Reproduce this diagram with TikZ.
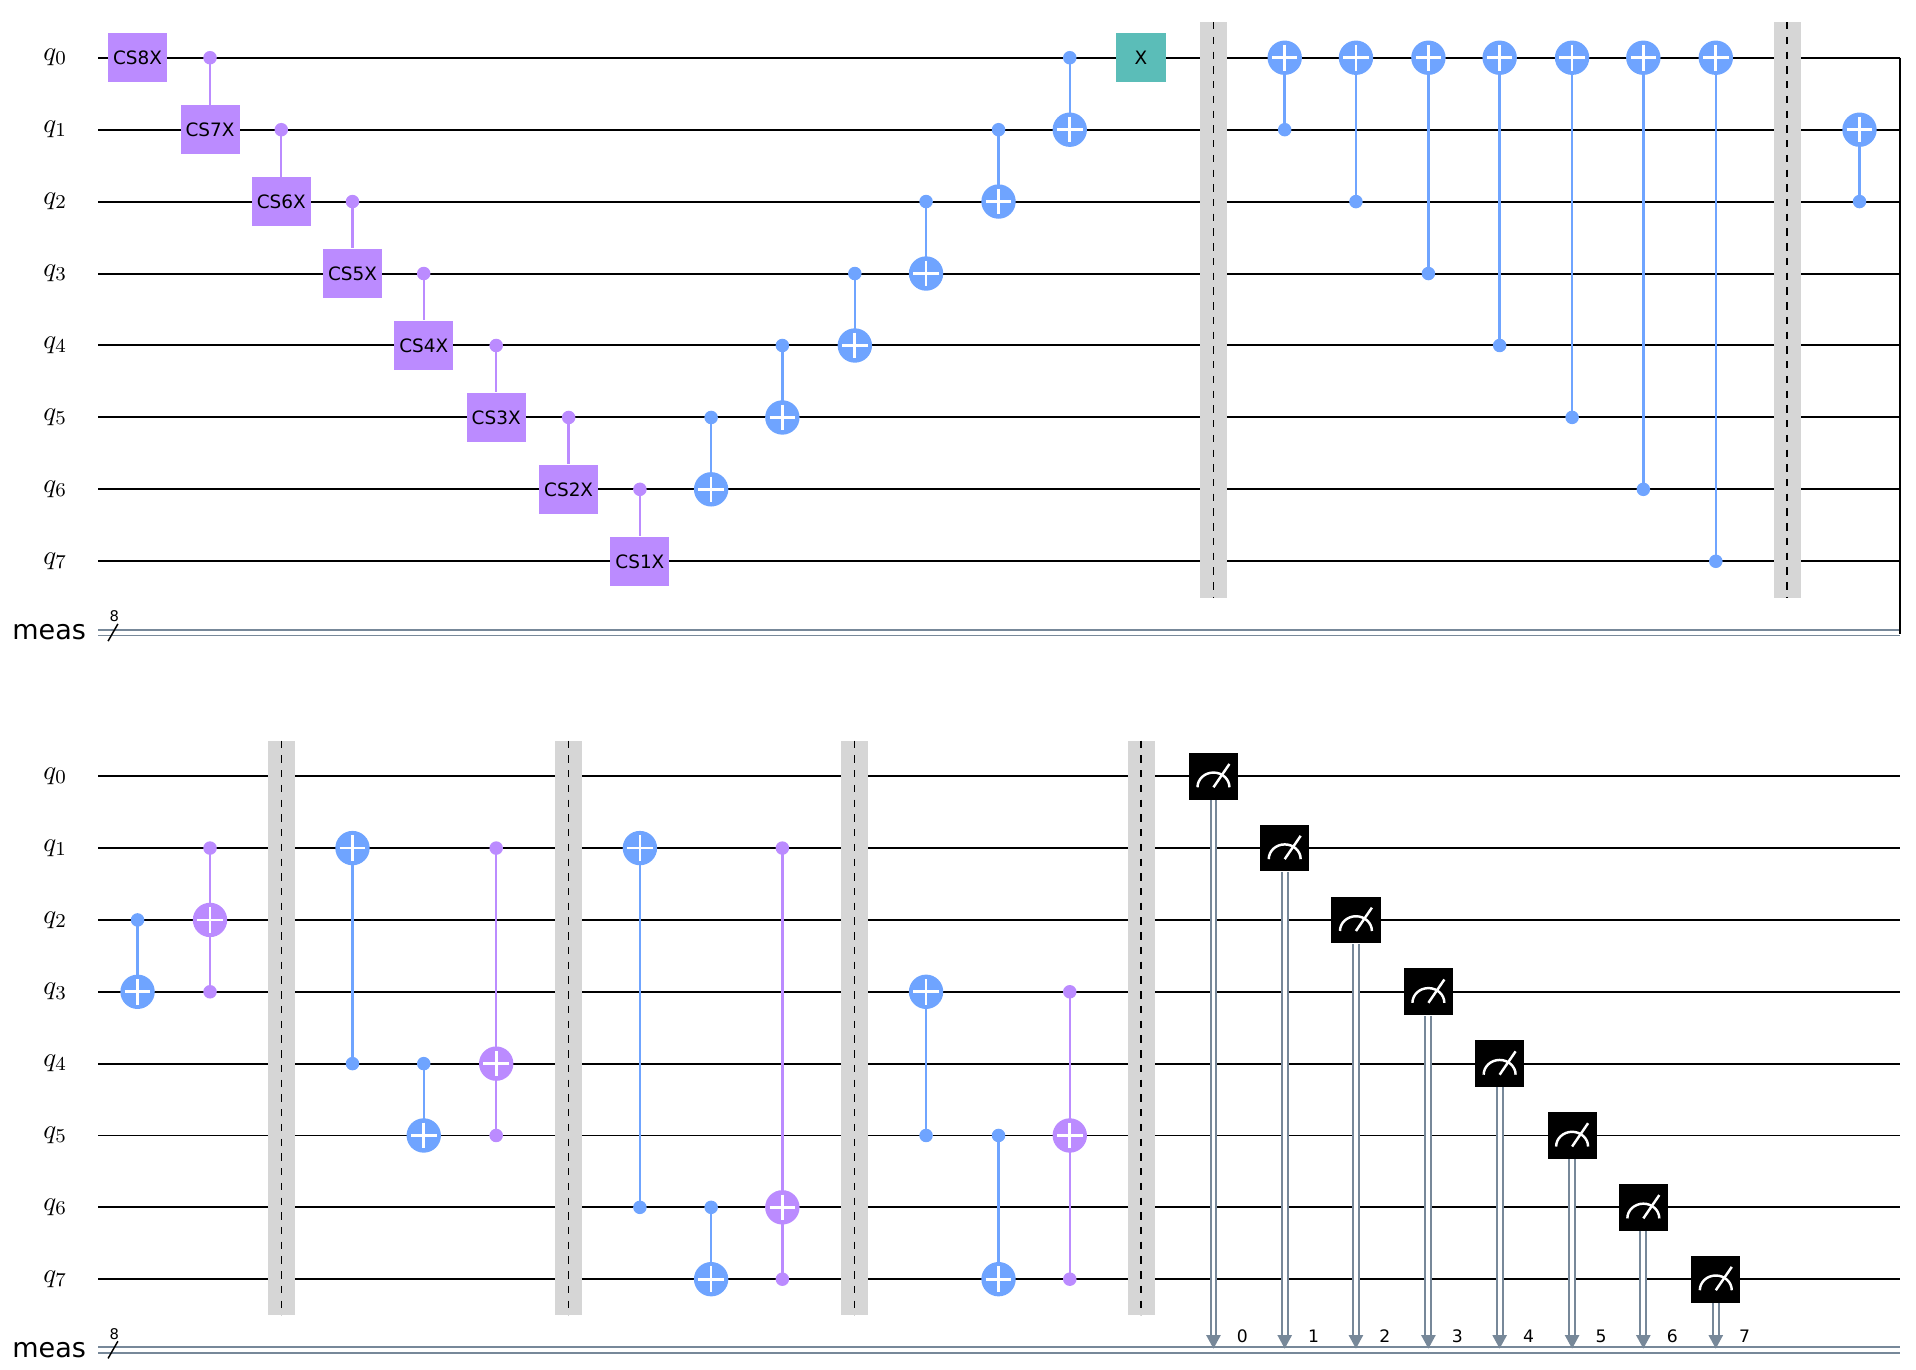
\documentclass[tikz,border=0pt]{standalone}
\usepackage{fontspec}
\setmainfont{DejaVu Sans}
\usetikzlibrary{arrows.meta}
\definecolor{qblue}{HTML}{6FA4FF}
\definecolor{qpurp}{HTML}{BB8BFF}
\definecolor{qteal}{HTML}{5BBDB8}
\definecolor{qgray}{HTML}{778899}
\definecolor{qbar}{HTML}{D6D6D6}
\tikzset{
 wire/.style={line width=0.8pt,black},
 cwire/.style={qgray,line width=0.8pt,double distance=1.6pt},
 ctl/.style={circle,inner sep=0pt,minimum size=5.5pt},
 tgt/.style={circle,inner sep=0pt,minimum size=14pt,path picture={
   \draw[white,line width=1.1pt] ([yshift=-1.8pt]path picture bounding box.north) -- ([yshift=1.8pt]path picture bounding box.south)
     ([xshift=1.8pt]path picture bounding box.west) -- ([xshift=-1.8pt]path picture bounding box.east);}},
 gbox/.style={rectangle,inner sep=0pt,minimum width=24pt,minimum height=20pt,font=\fontsize{7.5}{8}\selectfont},
 mbox/.style={rectangle,fill=black,inner sep=0pt,minimum width=20pt,minimum height=19pt},
 lab/.style={font=\fontsize{11}{12}\selectfont},
}
% control-target pair: name, x, ycontrol, ytarget, colour
\newcommand\gcx[5]{%
 \coordinate (#1c) at (#2,#3); \coordinate (#1t) at (#2,#4);
 \draw[#5,line width=1pt] (#1c) -- (#1t);
 \node[ctl,fill=#5] at (#1c) {}; \node[tgt,fill=#5] at (#1t) {};}
% toffoli: name, x, yc1, yc2, ytarget
\newcommand\gccx[5]{%
 \coordinate (#1a) at (#2,#3); \coordinate (#1b) at (#2,#4); \coordinate (#1t) at (#2,#5);
 \draw[qpurp,line width=1pt] (#1a) -- (#1b);
 \node[ctl,fill=qpurp] at (#1a) {}; \node[ctl,fill=qpurp] at (#1b) {}; \node[tgt,fill=qpurp] at (#1t) {};}
% controlled box: name, x, ycontrol, ybox, text
\newcommand\gcs[5]{%
 \coordinate (#1c) at (#2,#3);
 \node[gbox,fill=qpurp] (#1) at (#2,#4) {#5};
 \draw[qpurp,line width=1pt] (#1c) -- (#1);
 \node[ctl,fill=qpurp] at (#1c) {};}
% barrier: x, top, bottom
\newcommand\gbar[3]{%
 \fill[qbar] (#1-11,#2) rectangle (#1+11,#3);
 \draw[black,dashed,line width=0.5pt] (#1,#2) -- (#1,#3);}
% measure: name, x, y, ymeas, label
\newcommand\gmeas[5]{%
 \node[mbox] (#1) at (#2,#3) {};
 \draw[white,line width=1pt] (#2-13,#3+9) arc (180:360:13 and 12);
 \draw[white,line width=1pt] (#2,#3+9) -- (#2+13,#3-10);
 \coordinate (#1e) at (#2,#4-9);
 \draw[cwire] (#1.south) -- (#1e);
 \fill[qgray] (#2-6,#4-12) -- (#2+6,#4-12) -- (#2,#4-1) -- cycle;
 \node[font=\fontsize{7}{8}\selectfont,anchor=west] at (#2+12,#4-11) {#5};}
\begin{document}
\begin{tikzpicture}[x=0.5pt,y=-0.5pt]
\useasboundingbox (0,0) rectangle (1560,1115);
% ---------- top row ----------
\foreach \i in {0,...,7}{
 \draw[wire] (80,{47+58.57*\i}) -- (1547,{47+58.57*\i});
 \node[lab] at (45,{47+58.57*\i}) {$q_{\i}$};}
\draw[cwire] (80,515) -- (1547,515);
\draw[wire] (1547,47) -- (1547,516);
\node[lab] at (40,515) {meas};
\draw[line width=0.6pt] (88,522) -- (96,508);
\node[font=\fontsize{6}{7}\selectfont] at (93,502) {8};
\gbar{988}{18}{487}
\gbar{1455}{18}{487}
\node[gbox,fill=qpurp] (cs8) at (112,47) {CS8X};
\gcs{cs7}{171}{47}{105.6}{CS7X}
\gcs{cs6}{229}{105.6}{164.1}{CS6X}
\gcs{cs5}{287}{164.1}{222.7}{CS5X}
\gcs{cs4}{345}{222.7}{281.3}{CS4X}
\gcs{cs3}{404}{281.3}{339.9}{CS3X}
\gcs{cs2}{463}{339.9}{398.4}{CS2X}
\gcs{cs1}{521}{398.4}{457}{CS1X}
\gcx{a1}{579}{339.9}{398.4}{qblue}
\gcx{a2}{637}{281.3}{339.9}{qblue}
\gcx{a3}{696}{222.7}{281.3}{qblue}
\gcx{a4}{754}{164.1}{222.7}{qblue}
\gcx{a5}{813}{105.6}{164.1}{qblue}
\gcx{a6}{871}{47}{105.6}{qblue}
\node[gbox,fill=qteal,minimum width=20pt] (xg) at (929,47) {X};
\foreach \k/\x in {1/1046,2/1104,3/1163,4/1221,5/1280,6/1338,7/1397}{
 \gcx{b\k}{\x}{47+58.57*\k}{47}{qblue}}
\gcx{b8}{1514}{164.1}{105.6}{qblue}
% ---------- bottom row ----------
\foreach \i in {0,...,7}{
 \draw[wire] (80,{632+58.5*\i}) -- (1547,{632+58.5*\i});
 \node[lab] at (45,{632+58.5*\i}) {$q_{\i}$};}
\draw[cwire] (80,1099) -- (1547,1099);
\node[lab] at (40,1099) {meas};
\draw[line width=0.6pt] (88,1106) -- (96,1092);
\node[font=\fontsize{6}{7}\selectfont] at (93,1086) {8};
\foreach \x in {229,463,696,929}{\gbar{\x}{603}{1071}}
\gcx{c1}{112}{749}{807.5}{qblue}
\gccx{c2}{171}{690.5}{807.5}{749}
\gcx{c3}{287}{866}{690.5}{qblue}
\gcx{c4}{345}{866}{924.5}{qblue}
\gccx{c5}{404}{690.5}{924.5}{866}
\gcx{c6}{521}{983}{690.5}{qblue}
\gcx{c7}{579}{983}{1041.5}{qblue}
\gccx{c8}{637}{690.5}{1041.5}{983}
\gcx{c9}{754}{924.5}{807.5}{qblue}
\gcx{c10}{813}{924.5}{1041.5}{qblue}
\gccx{c11}{871}{807.5}{1041.5}{924.5}
\foreach \k/\x in {0/988,1/1046,2/1104,3/1163,4/1221,5/1280,6/1338,7/1397}{
 \gmeas{m\k}{\x}{632+58.5*\k}{1099}{\k}}
\end{tikzpicture}
\end{document}
